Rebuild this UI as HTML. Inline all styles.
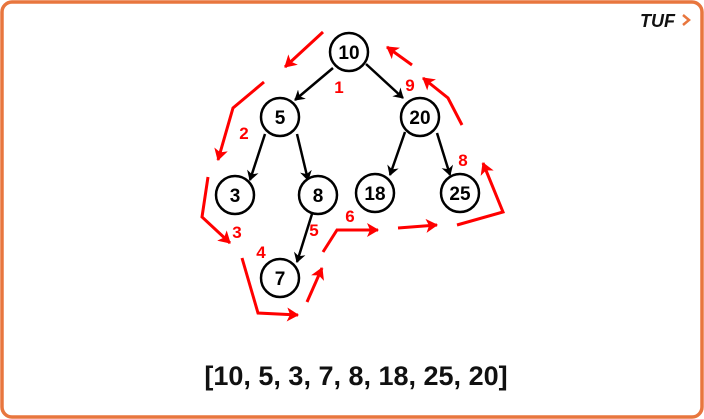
<!DOCTYPE html>
<html><head><meta charset="utf-8"><style>
html,body{margin:0;padding:0;background:#fff;}
svg{display:block;}
</style></head><body>
<svg width="704" height="419" viewBox="0 0 704 419" xmlns="http://www.w3.org/2000/svg">
<defs>
<marker id="ab" markerWidth="12" markerHeight="12" refX="9" refY="6" orient="auto" markerUnits="userSpaceOnUse"><path d="M0,0 L10,6 L0,12 L3,6 Z" fill="#000"/></marker>
<marker id="ar" markerWidth="14" markerHeight="14" refX="11" refY="7" orient="auto" markerUnits="userSpaceOnUse"><path d="M0,0 L12,7 L0,14 L3,7 Z" fill="#f00"/></marker>
</defs>
<rect x="2" y="2" width="700" height="415" rx="10" fill="#fff" stroke="#e8763e" stroke-width="3.5"/>
<text x="640" y="27" font-family="Liberation Sans, sans-serif" font-weight="bold" font-style="italic" font-size="18" fill="#111">TUF</text>
<path d="M683,15 L689,20 L683,25" fill="none" stroke="#e8763e" stroke-width="2.5"/>
<g stroke="#000" stroke-width="2.5" fill="none">
<line x1="333" y1="68" x2="295" y2="100" marker-end="url(#ab)"/>
<line x1="366" y1="64" x2="403" y2="98" marker-end="url(#ab)"/>
<line x1="265" y1="134" x2="250" y2="180" marker-end="url(#ab)"/>
<line x1="297" y1="134" x2="308" y2="180" marker-end="url(#ab)"/>
<line x1="405" y1="132" x2="390" y2="175" marker-end="url(#ab)"/>
<line x1="437" y1="133" x2="450" y2="175" marker-end="url(#ab)"/>
<line x1="312" y1="214" x2="297" y2="262" marker-end="url(#ab)"/>
</g>
<g stroke="#000" stroke-width="2.5" fill="#fff">
<circle cx="349" cy="52" r="19"/>
<circle cx="280" cy="117" r="19"/>
<circle cx="420" cy="117" r="19"/>
<circle cx="235" cy="195" r="19"/>
<circle cx="318" cy="195" r="19"/>
<circle cx="375" cy="193" r="19"/>
<circle cx="460" cy="193" r="19"/>
<circle cx="280" cy="278" r="19"/>
</g>
<g font-family="Liberation Sans, sans-serif" font-weight="bold" font-size="19" text-anchor="middle" fill="#000">
<text x="349" y="59">10</text>
<text x="280" y="124">5</text>
<text x="420" y="124">20</text>
<text x="235" y="202">3</text>
<text x="318" y="202">8</text>
<text x="375" y="200">18</text>
<text x="460" y="200">25</text>
<text x="280" y="285">7</text>
</g>
<g stroke="#f00" stroke-width="3" fill="none" stroke-linejoin="miter">
<polyline points="323,32 285,67" marker-end="url(#ar)"/>
<polyline points="264,82 233,108 218,160" marker-end="url(#ar)"/>
<polyline points="208,177 202,217 230,243" marker-end="url(#ar)"/>
<polyline points="242,258 258,313 298,315" marker-end="url(#ar)"/>
<polyline points="307,302 322,268" marker-end="url(#ar)"/>
<polyline points="323,252 337,230 378,230" marker-end="url(#ar)"/>
<polyline points="398,228 437,225" marker-end="url(#ar)"/>
<polyline points="457,225 503,212 483,163" marker-end="url(#ar)"/>
<polyline points="462,125 448,98 423,78" marker-end="url(#ar)"/>
<polyline points="412,65 387,47" marker-end="url(#ar)"/>
</g>
<g font-family="Liberation Sans, sans-serif" font-weight="bold" font-size="17" text-anchor="middle" fill="#f00">
<text x="339" y="93">1</text>
<text x="244" y="139">2</text>
<text x="237" y="238">3</text>
<text x="261" y="258">4</text>
<text x="314" y="236">5</text>
<text x="350" y="222">6</text>
<text x="463" y="166">8</text>
<text x="410" y="91">9</text>
</g>
<text x="356" y="385" font-family="Liberation Sans, sans-serif" font-weight="bold" font-size="27" text-anchor="middle" fill="#111">[10, 5, 3, 7, 8, 18, 25, 20]</text>
</svg>
</body></html>
